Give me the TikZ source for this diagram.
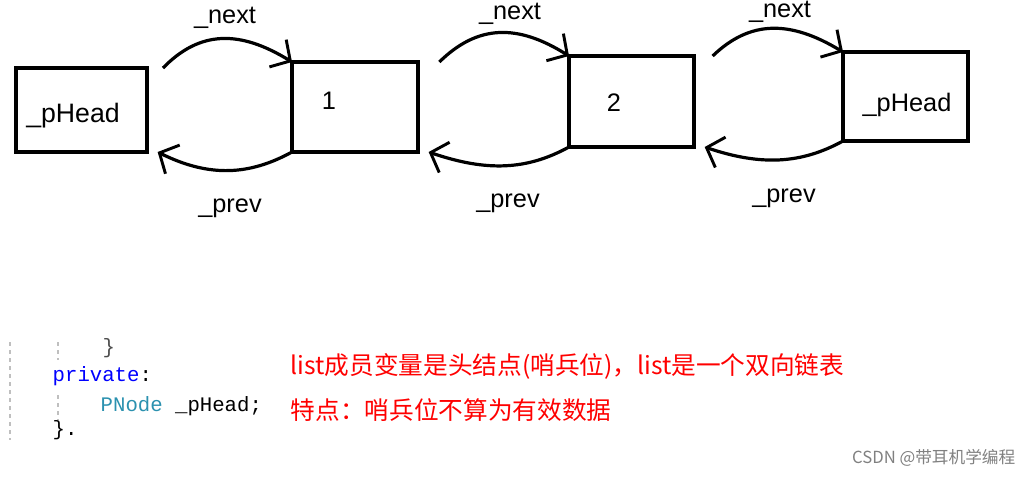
\documentclass[tikz,border=0pt]{standalone}
\usepackage{fontspec}
\setmainfont{Liberation Sans}
\newfontfamily\cjk{Noto Sans CJK SC}
\newfontfamily\codefont{Liberation Mono}
\usetikzlibrary{arrows.meta,positioning}
\definecolor{codeblue}{RGB}{0,0,255}
\definecolor{typeteal}{RGB}{43,145,175}
\definecolor{notered}{RGB}{255,0,0}
\begin{document}
\begin{tikzpicture}[x=0.75pt, y=-0.75pt,
    listbox/.style={rectangle, draw, line width=2.4pt, inner sep=0pt},
    link/.style={line width=2.4pt, -{Straight Barb[length=11pt, width=24pt, line width=2.2pt]}},
    linklabel/.style={font=\fontsize{19}{22}\selectfont},
    code/.style={font=\codefont\fontsize{15.5}{18}\selectfont, anchor=west},
    note/.style={font=\cjk\fontsize{18.5}{22}\selectfont, text=notered, anchor=west}]
    \useasboundingbox (0,0) rectangle (1032,476);

    % boxes of the list
    \draw[listbox] (16,68) rectangle (147,152);
    \draw[listbox] (292,62) rectangle (418,152);
    \draw[listbox] (569,56) rectangle (694,147);
    \draw[listbox] (843,52) rectangle (968,141);
    \coordinate (h0ne) at (147,68);   \coordinate (h0se) at (147,152);
    \coordinate (n1nw) at (292,62);   \coordinate (n1sw) at (292,152);
    \coordinate (n1ne) at (418,62);   \coordinate (n1se) at (418,152);
    \coordinate (n2nw) at (569,56);   \coordinate (n2sw) at (569,147);
    \coordinate (n2ne) at (694,56);   \coordinate (n2se) at (694,147);
    \coordinate (h3nw) at (843,52);   \coordinate (h3sw) at (843,141);

    \node[linklabel, font=\fontsize{20}{24}\selectfont] (head) at (73,116) {\_pHead};
    \node[linklabel] (one) at (329,101) {1};
    \node[linklabel] (two) at (614,103) {2};
    \node[linklabel] (tail) at (907,105) {\_pHead};

    % _next links
    \draw[link] ([xshift=12pt]h0ne) .. controls (200,30) and (240,30) .. (n1nw);
    \draw[link] ([xshift=16pt]n1ne) .. controls (478,24) and (518,24) .. (n2nw);
    \draw[link] ([xshift=14pt]n2ne) .. controls (750,20) and (790,20) .. (h3nw);
    % _prev links
    \draw[link] (n1sw) .. controls (250,175) and (210,178) .. ([xshift=8pt]h0se);
    \draw[link] (n2sw) .. controls (527,170) and (487,172) .. ([xshift=8pt]n1se);
    \draw[link] (h3sw) .. controls (801,164) and (761,166) .. ([xshift=8pt]n2se);

    \node[linklabel] (next1) at (225,18) {\_next};
    \node[linklabel] (next2) at (510,14) {\_next};
    \node[linklabel] (next3) at (780,12) {\_next};
    \node[linklabel] (prev1) at (230,208) {\_prev};
    \node[linklabel] (prev2) at (508,203) {\_prev};
    \node[linklabel] (prev3) at (784,198) {\_prev};

    % code excerpt
    \draw[gray!50, dashed, line width=1.5pt] (10,342) -- (10,440);
    \draw[gray!50, dashed, line width=1.5pt] (58,342) -- (58,360);
    \draw[gray!50, dashed, line width=1.5pt] (58,395) -- (58,420);
    \node[code, text=black!70] (brace) at (98,348) {\}};
    \node[code, text=codeblue] (private) at (48,376) {private\textcolor{black}{:}};
    \node[code, text=typeteal] (member) at (96,406) {PNode \textcolor{black}{\_pHead;}};
    \node[code, text=black] (close) at (48,430) {\}.};

    \node[note] (note1) at (286,366) {list成员变量是头结点(哨兵位)，list是一个双向链表};
    \node[note] (note2) at (286,410) {特点：哨兵位不算为有效数据};
    \node[font=\cjk\fontsize{12.5}{14}\selectfont, text=gray, anchor=east] (mark) at (1020,458) {CSDN @带耳机学编程};
\end{tikzpicture}
\end{document}
